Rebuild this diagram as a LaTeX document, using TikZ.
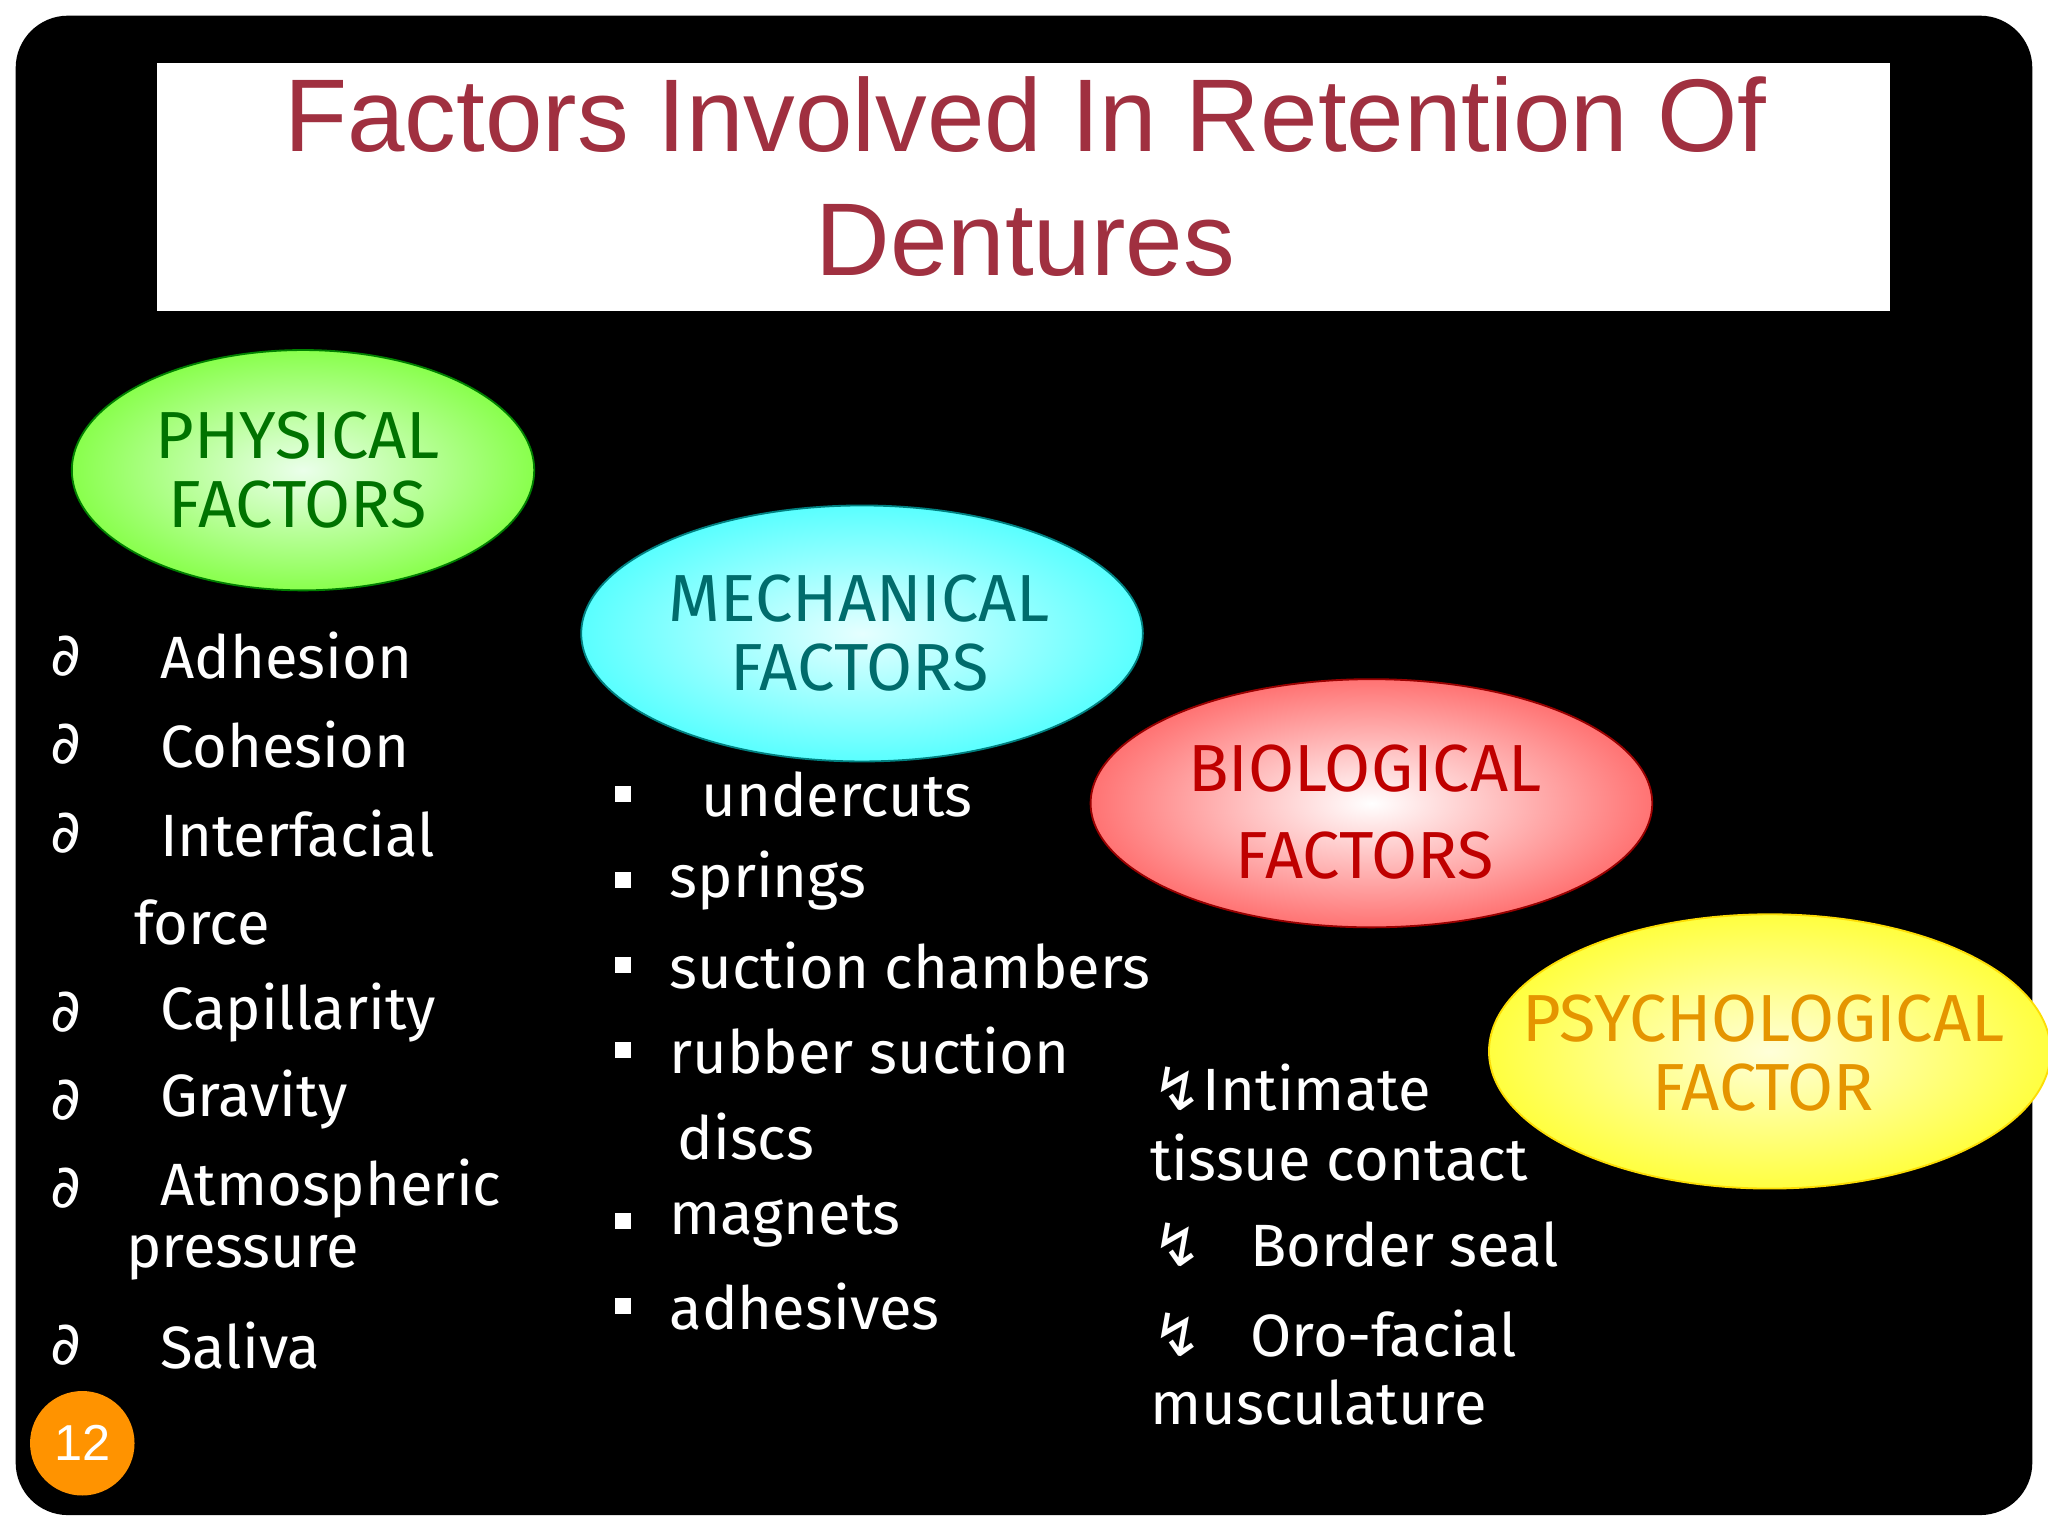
\documentclass[tikz,border=0pt]{standalone}
\usepackage{fontspec}
\setmainfont{Fira Sans}
\newfontfamily\titlefont{Liberation Sans}
\newfontfamily\symfont{DejaVu Sans}
\begin{document}
\begin{tikzpicture}[x=0.01cm,y=-0.01cm,
  body/.style={anchor=west,text=white,font=\fontsize{13}{15}\selectfont,inner sep=0},
  lab/.style={align=center,font=\fontsize{14.5}{15}\selectfont,inner sep=0}]
\useasboundingbox (0,0) rectangle (1568,1176);
\fill[white] (0,0) rectangle (1568,1176);
\fill[black,rounded corners=0.4cm] (12,12) rectangle (1556,1160);
\fill[white] (120,48) rectangle (1447,238);
\node[font=\titlefont\fontsize{22.5}{27}\selectfont,text={rgb,255:red,160;green,48;blue,64},align=center] (title) at (785,135) {Factors Involved In Retention Of\\Dentures};
% ellipses
\shade[inner color=green!8,outer color=green!55!lime!70,draw=green!50!black] (232,360) ellipse (177 and 92);
\node[lab,text=green!45!black] (phys) at (228,360) {PHYSICAL\\FACTORS};
\shade[inner color=cyan!10,outer color=cyan!65,draw=teal] (660,485) ellipse (215 and 98);
\node[lab,text=teal!85!black] (mech) at (658,485) {MECHANICAL\\FACTORS};
\shade[inner color=white,outer color=red!40!pink,draw=red!60!black] (1050,615) ellipse (215 and 95);
\node[lab,text=red!75!black,font=\fontsize{14.5}{19}\selectfont] (bio) at (1045,622) {BIOLOGICAL\\FACTORS};
\shade[inner color=yellow!15,outer color=yellow!75,draw=yellow!80!orange] (1355,805) ellipse (215 and 105);
\node[lab,text=orange!70!yellow!90!black] (psy) at (1350,806) {PSYCHOLOGICAL\\FACTOR};
% physical list
\foreach \y/\t in {502/Adhesion,570/Cohesion,638/Interfacial,775/Capillarity,842/Gravity,910/Atmospheric,1030/Saliva}{
  \node[body,font=\symfont\fontsize{13}{15}\selectfont] at (38,\y) {∂};
  \node[body] at (122,\y) {\t};}
\node[body] (force) at (102,706) {force};
\node[body] (press) at (96,963) {pressure};
% mechanical list
\foreach \y/\t in {608/\ \ undercuts,674/springs,739/suction chambers,804/rubber suction,935/magnets,1000/adhesives}{
  \fill[white] (471,\y-6) rectangle +(12,12);
  \node[body] at (512,\y) {\t};}
\node[body] (discs) at (518,870) {discs};
% biological list
\node[body] (i1) at (882,833) {{\symfont ↯}Intimate};
\node[body] (i2) at (880,886) {tissue contact};
\node[body] (b1) at (882,953) {{\symfont ↯}\ \ \ Border seal};
\node[body] (o1) at (882,1021) {{\symfont ↯}\ \ \ Oro-facial};
\node[body] (o2) at (880,1074) {musculature};
% page number
\fill[orange!85!yellow] (63,1105) circle (40);
\node[text=white,font=\titlefont\fontsize{11}{13}\selectfont] (pg) at (63,1105) {12};
\end{tikzpicture}
\end{document}
